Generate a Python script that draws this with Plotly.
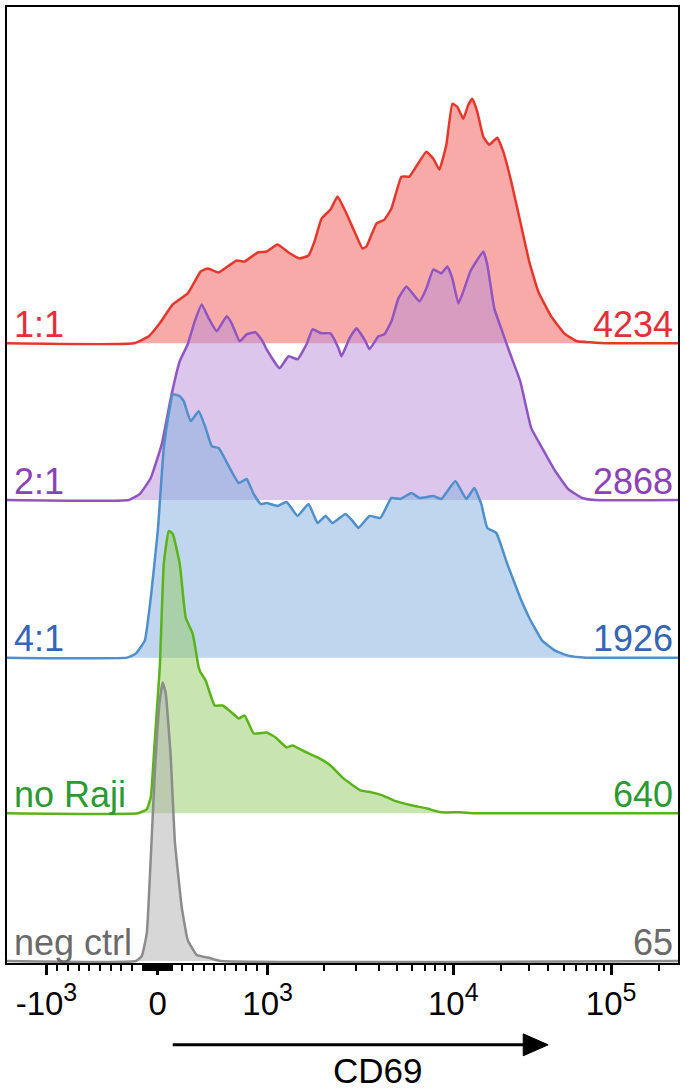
import numpy as np
import plotly.graph_objects as go

# ---------------- data (x: CD69 display channel, y: events, arbitrary units) -------------
red_x = [7, 134, 149, 160, 173, 188, 201, 208, 219, 228, 237, 245, 258, 267, 278, 289, 300, 309,
         315, 322, 331, 338, 346, 355, 363, 367, 377, 385, 392, 402, 410, 418, 427, 434, 440, 447,
         453, 458, 464, 469, 473, 478, 484, 490, 498, 504, 512, 521, 530, 539, 552, 565, 578, 591,
         609, 679]
red_y = [0, 0, 7, 20, 39, 50, 72, 75, 71, 77, 83, 82, 91, 92, 99, 91, 85, 88,
         102, 125, 134, 147, 132, 112, 95, 97, 120, 124, 135, 167, 167, 179, 192, 185, 174, 199,
         240, 237, 225, 239, 245, 232, 207, 199, 206, 192, 162, 122, 82, 52, 27, 10, 2, 1,
         0, 0]

purple_x = [7, 129, 140, 151, 162, 171, 180, 188, 195, 202, 209, 217, 227, 232, 240, 247, 256, 263,
            267, 280, 289, 298, 307, 313, 322, 331, 339, 342, 350, 357, 366, 370, 379, 385, 392, 399,
            407, 420, 427, 434, 442, 448, 453, 459, 463, 471, 477, 484, 488, 495, 504, 510, 521, 532,
            543, 556, 569, 583, 596, 679]
purple_y = [0, 0, 6, 22, 56, 102, 139, 156, 179, 196, 182, 169, 184, 177, 159, 166, 168, 159,
            151, 132, 144, 141, 156, 171, 167, 167, 152, 144, 162, 172, 159, 151, 164, 166, 179, 202,
            214, 199, 212, 231, 227, 234, 222, 197, 206, 229, 239, 249, 236, 192, 166, 149, 119, 72,
            52, 29, 11, 2, 0, 0]

blue_x = [7, 127, 136, 145, 151, 158, 164, 170, 173, 180, 184, 191, 199, 206, 212, 219, 228, 239,
          247, 254, 261, 267, 278, 287, 298, 309, 318, 326, 333, 346, 353, 359, 370, 381, 392, 401,
          412, 420, 434, 442, 456, 467, 475, 482, 488, 497, 508, 521, 530, 543, 556, 569, 587, 679]
blue_y = [0, 0, 4, 17, 60, 127, 210, 250, 264, 262, 257, 237, 247, 230, 212, 210, 194, 175,
          179, 164, 154, 155, 152, 156, 142, 154, 135, 142, 135, 144, 137, 130, 142, 140, 160, 159,
          165, 160, 162, 159, 177, 159, 170, 154, 130, 125, 94, 60, 40, 17, 7, 2, 0, 0]

green_x = [7, 138, 147, 151, 155, 160, 164, 169, 173, 180, 186, 193, 199, 201, 206, 215, 223, 232,
           239, 245, 254, 267, 276, 287, 293, 307, 318, 331, 344, 361, 372, 383, 394, 412, 427, 442,
           460, 477, 679]
green_y = [0, 0, 4, 16, 73, 146, 250, 283, 280, 250, 196, 180, 146, 141, 133, 108, 108, 101,
           95, 98, 80, 81, 76, 66, 68, 61, 56, 48, 35, 23, 21, 18, 13, 8, 5, 1,
           1, 0, 0]

gray_x = [7, 136, 142, 147, 151, 155, 160, 163, 166, 171, 175, 182, 188, 197, 210, 221, 679]
gray_y = [0, 0, 5, 28, 104, 188, 261, 279, 268, 204, 121, 54, 21, 6, 3, 0, 0]

series_x = [red_x, purple_x, blue_x, green_x, gray_x]
series_y = [red_y, purple_y, blue_y, green_y, gray_y]
series_names = ["1:1", "2:1", "4:1", "no Raji", "neg ctrl"]
series_mfi = ["4234", "2868", "1926", "640", "65"]

# biexponential axis: fluorescence values and their display channel
axis_anchor_values = [-1000, -100, 0, 100, 1000, 10000, 100000, 262144]
axis_anchor_chan = [46.5, 143, 158, 172, 268, 454, 612, 678]
major_tick_values = [-1000, 0, 1000, 10000, 100000]
major_tick_base = ["-10", "0", "10", "10", "10"]
major_tick_exp = ["3", "", "3", "4", "5"]
minor_tick_values = ([-900, -800, -700, -600, -500, -400, -300, -200, -100]
                     + [-90, -80, -70, -60, -50, -40, -30, -20, -10]
                     + [10, 20, 30, 40, 50, 60, 70, 80, 90]
                     + [100, 200, 300, 400, 500, 600, 700, 800, 900]
                     + [2000, 3000, 4000, 5000, 6000, 7000, 8000, 9000]
                     + [20000, 30000, 40000, 50000, 60000, 70000, 80000, 90000, 200000])

# ---------------- styling -------------
line_colors = ["#e4382c", "#9155c2", "#4f8fcc", "#5ab318", "#8c8c8c"]
fill_colors = ["rgba(241,85,81,0.5)", "rgba(185,141,217,0.5)", "rgba(129,173,221,0.5)",
               "rgba(145,201,97,0.5)", "rgba(175,175,175,0.5)"]
text_colors = ["#e0303a", "#8c42b6", "#3566b4", "#2c9a32", "#6a6a6a"]
row_offsets = [621, 464, 306, 150, 2]   # vertical offset of each layered histogram
label_lift = 19
FONT = "Liberation Sans, Arial, Helvetica, sans-serif"

av = np.array(axis_anchor_values, float)
ac = np.array(axis_anchor_chan, float)


def to_chan(v):
    v = float(v)
    if v >= 1000:
        return float(np.interp(np.log10(v), np.log10(av[4:]), ac[4:]))
    return float(np.interp(v, av[:5], ac[:5]))


def tick_label(base, exp):
    if not exp:
        return base
    return f"{base}<sup><span style='font-size:25px'>{exp}</span></sup>"


X0, X1 = 7, 679
fig = go.Figure()
for i in range(len(series_names)):
    off = row_offsets[i]
    fig.add_trace(go.Scatter(x=[X0, X1], y=[off, off], mode="lines",
                             line=dict(width=0, color=line_colors[i]),
                             hoverinfo="skip", showlegend=False))
    fig.add_trace(go.Scatter(x=series_x[i], y=[off + v for v in series_y[i]],
                             mode="lines", fill="tonexty", fillcolor=fill_colors[i],
                             line=dict(color=line_colors[i], width=2.5, shape="spline", smoothing=0.35),
                             name=series_names[i], showlegend=False))
    fig.add_annotation(x=X0 + 5, y=off + label_lift, xref="x", yref="y", text=series_names[i],
                       showarrow=False, xanchor="left", yanchor="middle",
                       font=dict(family=FONT, size=36, color=text_colors[i]))
    fig.add_annotation(x=X1 - 3, y=off + label_lift, xref="x", yref="y", text=series_mfi[i],
                       showarrow=False, xanchor="right", yanchor="middle",
                       font=dict(family=FONT, size=36, color=text_colors[i]))

fig.update_xaxes(range=[X0, X1], showgrid=False, zeroline=False,
                 showline=True, linecolor="black", linewidth=2, mirror=True,
                 tickmode="array", tickvals=[to_chan(v) for v in major_tick_values],
                 ticktext=[tick_label(b, e) for b, e in zip(major_tick_base, major_tick_exp)],
                 ticks="outside", ticklen=10, tickwidth=2.5,
                 tickcolor="black", tickfont=dict(family=FONT, size=33, color="black"),
                 minor=dict(tickmode="array", tickvals=[to_chan(v) for v in minor_tick_values],
                            ticks="outside", ticklen=6, tickwidth=1.5, tickcolor="black",
                            showgrid=False))
fig.update_yaxes(range=[0, 958], showgrid=False, zeroline=False, showticklabels=False,
                 showline=True, linecolor="black", linewidth=2, mirror=True, ticks="")

W, H = 685, 1092
L, R, T, B = 7, 6, 5, 129
pw, ph = W - L - R, H - T - B


def px(xp):
    return (xp - L) / pw


def py(yp):
    return (H - B - yp) / ph


# CD69 arrow below the axis
fig.add_shape(type="line", xref="paper", yref="paper", x0=px(173), x1=px(528), y0=py(1045), y1=py(1045),
              line=dict(color="black", width=3))
fig.add_shape(type="path", xref="paper", yref="paper",
              path=f"M {px(524)} {py(1034)} L {px(549)} {py(1045)} L {px(524)} {py(1056)} Z",
              fillcolor="black", line=dict(color="black", width=1))
fig.add_annotation(x=px(378), y=py(1071), xref="paper", yref="paper", text="CD69", showarrow=False,
                   xanchor="center", yanchor="middle", font=dict(family=FONT, size=35, color="black"))

fig.update_layout(width=W, height=H, margin=dict(l=L, r=R, t=T, b=B),
                  paper_bgcolor="white", plot_bgcolor="white", showlegend=False)
fig.write_html("out.html")
